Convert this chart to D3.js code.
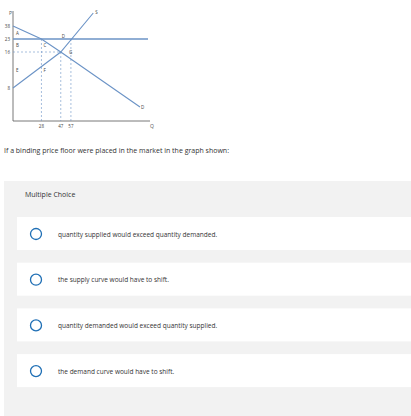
<!DOCTYPE html>
<html><head><meta charset="utf-8">
<script src="https://cdn.jsdelivr.net/npm/d3@7"></script>
<style>body{margin:0;background:#fff;font-family:"Open Sans",Lato,sans-serif}</style>
</head><body><div class="canva"></div>
<script>
// chart values
const yTicks = [38, 23, 16, 8]
const xTicks = [28, 47, 57]
const supply = [[0, 8], [47, 16], [79, 44]]
const demand = [[0, 38], [28, 23], [47, 16], [125, -4]]
const floorPrice = 23
const areaLabels = [['A', 3, 29], ['B', 3, 19.5], ['C', 30, 19.5], ['D', 48, 26], ['E', 3, 12], ['F', 30, 12], ['G', 55, 16]]
const question = 'If a binding price floor were placed in the market in the graph shown:'
const choices = [
  'quantity supplied would exceed quantity demanded.',
  'the supply curve would have to shift.',
  'quantity demanded would exceed quantity supplied.',
  'the demand curve would have to shift.'
]

const svg = d3.select('.canva').append('svg').attr('width', 411).attr('height', 416)

const x = d3.scaleLinear().domain([0, 125]).range([13, 140])
const y = d3.scaleLinear().domain([-4, 8, 16, 23, 38, 44]).range([107, 88, 52, 39, 26, 13])
const blue = '#6b93c6'
const g = svg.append('g')

// axes
g.append('path').attr('d', `M13,11V121H150`).attr('stroke', '#555').attr('fill', 'none').attr('stroke-width', 0.8)
g.append('text').attr('x', 9).attr('y', 15).text('P').attr('font-size', 5).attr('fill', '#555')
g.append('text').attr('x', 150).attr('y', 128).text('Q').attr('font-size', 5).attr('fill', '#555')

// dashed guides
g.append('line').attr('x1', 13).attr('x2', x(47)).attr('y1', y(16)).attr('y2', y(16))
  .attr('stroke', blue).attr('stroke-dasharray', '2,2').attr('stroke-width', 0.6)
xTicks.forEach(v => {
  g.append('line').attr('x1', x(v)).attr('x2', x(v)).attr('y1', y(v == 47 ? 16 : 23)).attr('y2', 121)
    .attr('stroke', blue).attr('stroke-dasharray', '2,2').attr('stroke-width', 0.6)
  g.append('text').attr('x', x(v)).attr('y', 128).attr('text-anchor', 'middle').text(v).attr('font-size', 4.5).attr('fill', '#444')
})
yTicks.forEach(v => {
  g.append('text').attr('x', 10).attr('y', y(v) + 1.5).attr('text-anchor', 'end').text(v).attr('font-size', 4.5).attr('fill', '#444')
})

const line = d3.line().x(d => x(d[0])).y(d => y(d[1]))
g.append('path').attr('d', line(supply)).attr('stroke', blue).attr('fill', 'none').attr('stroke-width', 1.1)
g.append('path').attr('d', line(demand)).attr('stroke', blue).attr('fill', 'none').attr('stroke-width', 1.1)
g.append('line').attr('x1', 13).attr('x2', 148).attr('y1', y(floorPrice)).attr('y2', y(floorPrice))
  .attr('stroke', blue).attr('stroke-width', 1.4)
g.append('text').attr('x', x(79) + 2).attr('y', y(44) + 1).text('S').attr('font-size', 4.5).attr('fill', '#444')
g.append('text').attr('x', x(125) + 1).attr('y', y(-4) + 2).text('D').attr('font-size', 4.5).attr('fill', '#444')
areaLabels.forEach(d => {
  g.append('text').attr('x', x(d[1])).attr('y', y(d[2]) + 1.5).text(d[0]).attr('font-size', 4.5).attr('fill', '#444')
})

// question
svg.append('text').attr('x', 4).attr('y', 153).text(question).attr('font-size', 7).attr('fill', '#333')
svg.append('rect').attr('x', 4).attr('y', 181).attr('width', 407).attr('height', 235).attr('fill', '#f2f2f2')
svg.append('text').attr('x', 25).attr('y', 197).text('Multiple Choice').attr('font-size', 7).attr('fill', '#333')
choices.forEach((c, i) => {
  const top = 217 + i * 45.7
  svg.append('rect').attr('x', 17).attr('y', top).attr('width', 394).attr('height', 33).attr('fill', '#fff')
  svg.append('circle').attr('cx', 36).attr('cy', top + 17).attr('r', 5.5).attr('fill', '#fff').attr('stroke', '#1f6fb5').attr('stroke-width', 1.3)
  svg.append('text').attr('x', 58).attr('y', top + 19.5).text(c).attr('font-size', 6.5).attr('fill', '#333')
})
</script></body></html>
